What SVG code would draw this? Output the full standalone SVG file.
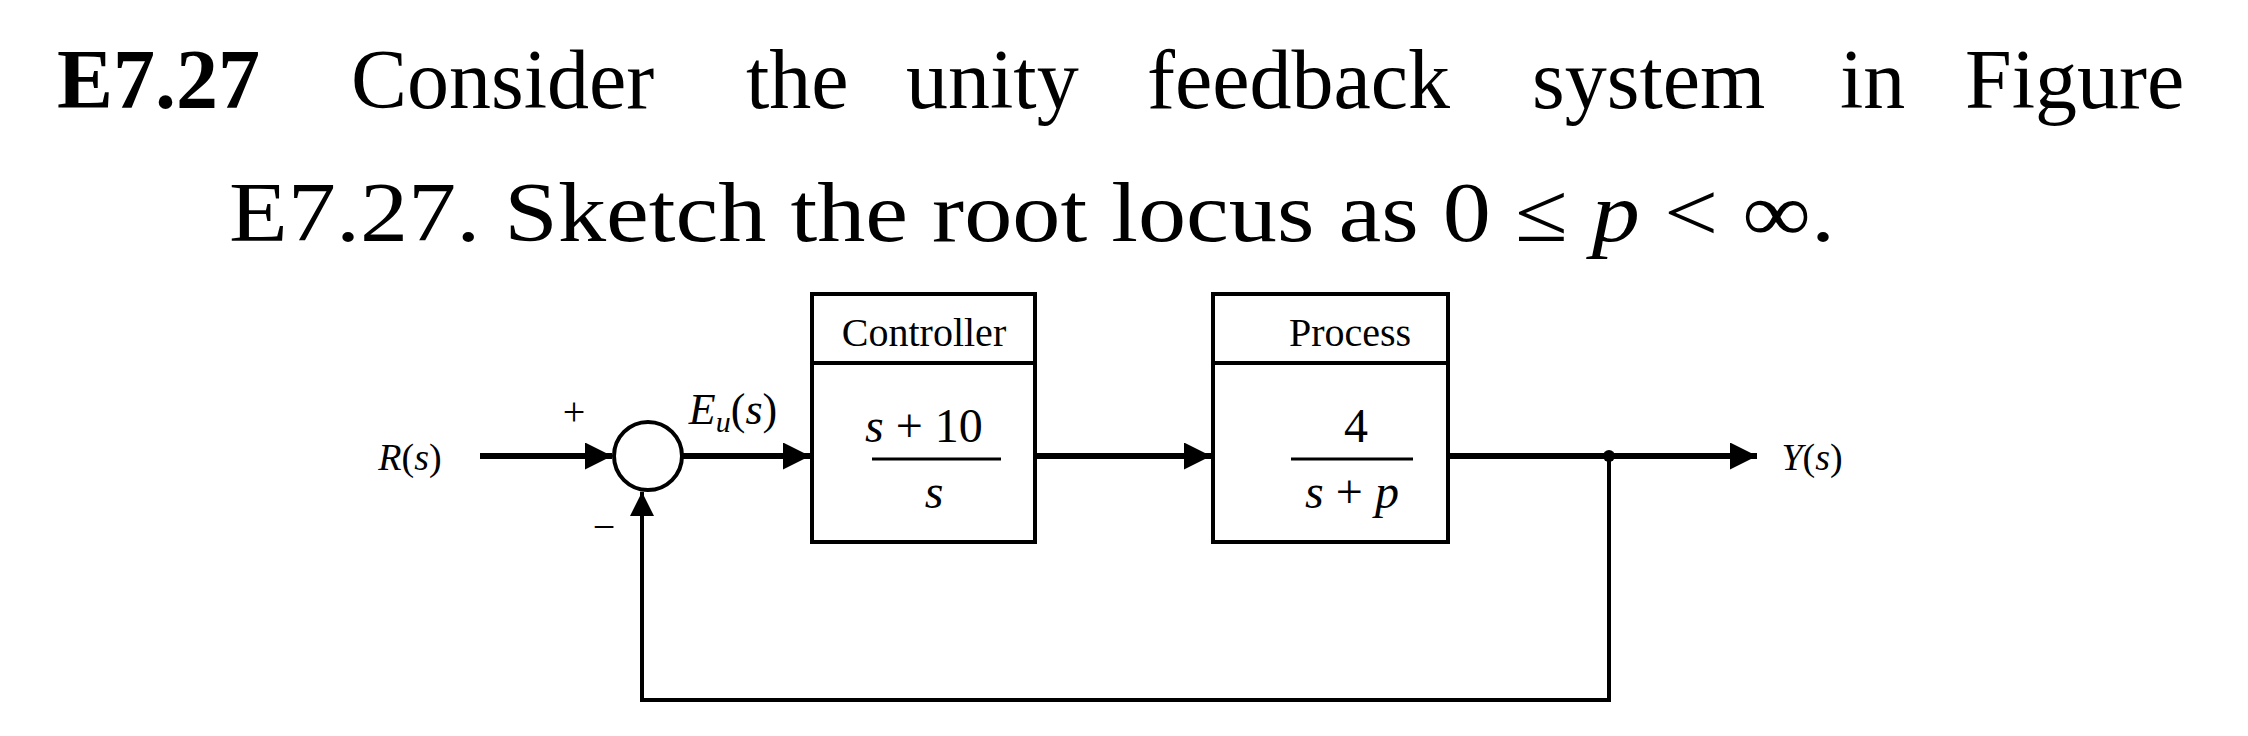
<svg xmlns="http://www.w3.org/2000/svg" width="2248" height="736" viewBox="0 0 2248 736">
<style>
text{font-family:"Liberation Serif","Times New Roman",serif;fill:#000}
.t{font-size:84px}
.lb{font-size:40px;text-anchor:middle}
.m{font-size:48px;text-anchor:middle;font-style:italic}
.n{font-style:normal}
.box{fill:#fff;stroke:#000;stroke-width:4}
.w{stroke:#000;stroke-width:6;fill:none}
.f{stroke:#000;stroke-width:4;fill:none}
</style>
<defs>
<marker id="a" viewBox="0 0 10 10" refX="10" refY="5" markerWidth="6" markerHeight="4.5" markerUnits="strokeWidth" orient="auto"><path d="M0,0L10,5L0,10z" fill="#000"/></marker>
<marker id="b" viewBox="0 0 10 10" refX="10" refY="5" markerWidth="8" markerHeight="6" markerUnits="strokeWidth" orient="auto"><path d="M0,0L10,5L0,10z" fill="#000"/></marker>
</defs>
<text class="t" y="108"><tspan x="57" font-weight="bold">E7.27</tspan><tspan x="351">Consider</tspan><tspan x="746">the</tspan><tspan x="906">unity</tspan><tspan x="1147">feedback</tspan><tspan x="1532">system</tspan><tspan x="1840">in</tspan><tspan x="1965">Figure</tspan></text>
<text class="t" x="229" y="241" textLength="1606" lengthAdjust="spacingAndGlyphs">E7.27. Sketch the root locus as 0 ≤ <tspan font-style="italic">p</tspan> &lt; ∞.</text>
<g id="connectors">
<path class="w" d="M480,456H612" marker-end="url(#a)"/>
<path class="w" d="M682,456H810" marker-end="url(#a)"/>
<path class="w" d="M1037,456H1211" marker-end="url(#a)"/>
<path class="w" d="M1448,456H1757" marker-end="url(#a)"/>
<path class="f" d="M1609,456V700H642V492" marker-end="url(#b)"/>
<circle cx="1609" cy="456" r="6" fill="#000"/>
</g>
<g id="sum"><circle cx="648" cy="456" r="34" fill="#fff" stroke="#000" stroke-width="4"/></g>
<g id="controller">
<rect class="box" x="812" y="294" width="223" height="248"/>
<line x1="812" y1="363" x2="1035" y2="363" stroke="#000" stroke-width="4"/>
<text class="lb" x="924" y="346">Controller</text>
<text class="m" x="924" y="442">s <tspan class="n">+ 10</tspan></text>
<line x1="872" y1="459" x2="1001" y2="459" stroke="#000" stroke-width="3"/>
<text class="m" x="934" y="508">s</text>
</g>
<g id="process">
<rect class="box" x="1213" y="294" width="235" height="248"/>
<line x1="1213" y1="363" x2="1448" y2="363" stroke="#000" stroke-width="4"/>
<text class="lb" x="1350" y="346">Process</text>
<text class="m n" x="1356" y="442" font-style="normal">4</text>
<line x1="1291" y1="459" x2="1413" y2="459" stroke="#000" stroke-width="3"/>
<text class="m" x="1352" y="508">s <tspan class="n">+</tspan> p</text>
</g>
<g id="labels">
<text class="m" x="410" y="470" style="font-size:38px">R<tspan class="n">(</tspan>s<tspan class="n">)</tspan></text>
<text class="m" x="1812" y="470" style="font-size:38px">Y<tspan class="n">(</tspan>s<tspan class="n">)</tspan></text>
<text class="m" x="733" y="424" style="font-size:44px">E<tspan font-size="30" dy="8">u</tspan><tspan class="n" dy="-8">(</tspan>s<tspan class="n">)</tspan></text>
<text class="lb" x="574" y="425" style="font-size:40px">+</text>
<text class="lb" x="604" y="540" style="font-size:40px">−</text>
</g>
</svg>
